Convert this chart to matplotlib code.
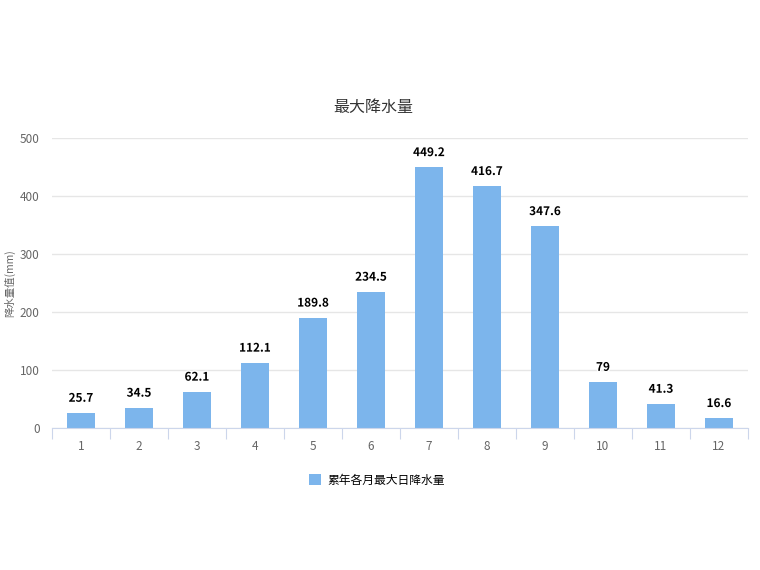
import matplotlib.pyplot as plt
import matplotlib.patheffects as pe
import numpy as np

plt.rcParams['font.family'] = ['Noto Sans CJK SC', 'DejaVu Sans']

months = ['1', '2', '3', '4', '5', '6', '7', '8', '9', '10', '11', '12']
max_rain = [25.7, 34.5, 62.1, 112.1, 189.8, 234.5, 449.2, 416.7, 347.6, 79, 41.3, 16.6]
labels = ['25.7', '34.5', '62.1', '112.1', '189.8', '234.5', '449.2', '416.7', '347.6', '79', '41.3', '16.6']
yticks = [0, 100, 200, 300, 400, 500]

fig = plt.figure(figsize=(7.6, 5.7), dpi=100)
ax = fig.add_axes([52 / 760, 1 - 428 / 570, 696 / 760, 290 / 570])

x = np.arange(len(months))
bars = ax.bar(x, max_rain, width=0.48, color='#7cb5ec', zorder=2)

for xi, v, t in zip(x, max_rain, labels):
    ax.annotate(t, (xi, v), xytext=(0, 6), textcoords='offset points',
                ha='center', va='bottom', fontsize=8.5, fontweight='bold', color='#000000',
                path_effects=[pe.withStroke(linewidth=2, foreground='white')])

ax.set_xlim(-0.5, len(months) - 0.5)
ax.set_ylim(0, 500)
ax.set_yticks(yticks)
ax.yaxis.grid(True, color='#e6e6e6', linewidth=1, zorder=0)
ax.set_axisbelow(True)

ax.set_xticks(np.arange(-0.5, len(months), 1.0))
ax.set_xticklabels([])
ax.set_xticks(x, minor=True)
ax.set_xticklabels(months, minor=True)
ax.tick_params(axis='x', which='major', length=8, color='#ccd6eb', direction='out')
ax.tick_params(axis='x', which='minor', length=0, pad=9, labelsize=8.5, labelcolor='#666666')
ax.tick_params(axis='y', length=0, pad=9, labelsize=8.5, labelcolor='#666666')

for s in ['top', 'right', 'left']:
    ax.spines[s].set_visible(False)
ax.spines['bottom'].set_color('#ccd6eb')

ax.set_ylabel('降水量值(mm)', fontsize=7.5, color='#666666')
ax.yaxis.set_label_coords(-37 / 696, 0.5)

fig.text(373 / 760, 1 - 107 / 570, '最大降水量', ha='center', va='center', fontsize=11.5, color='#333333')

fig.legend(handles=[bars], labels=['累年各月最大日降水量'], loc='center',
           bbox_to_anchor=(377 / 760, 1 - 480 / 570), frameon=False,
           fontsize=8.5, handlelength=1.0, handleheight=1.0, handletextpad=0.5)

fig.savefig('out.png', dpi=100, facecolor='white')
